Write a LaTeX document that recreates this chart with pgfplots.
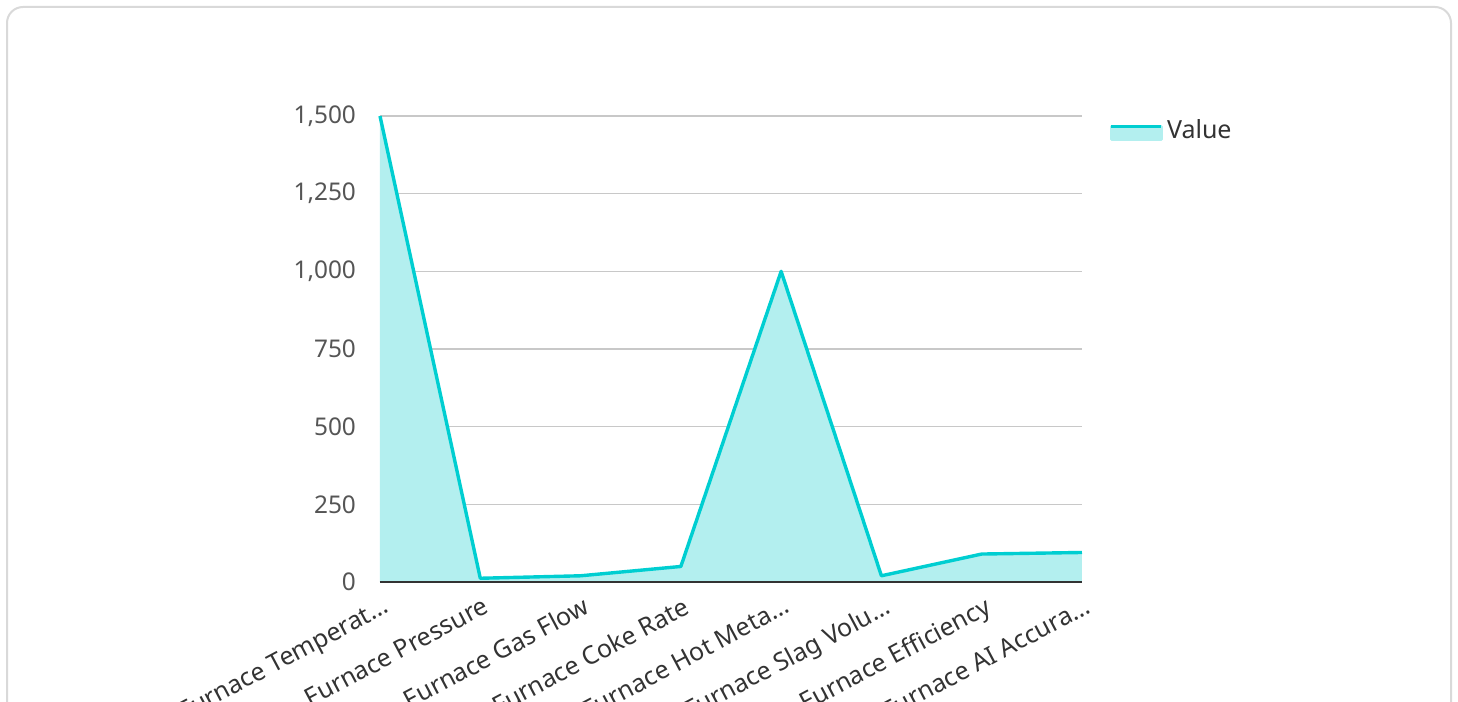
\documentclass[border=0pt]{standalone}
\usepackage{pgfplots}
\pgfplotsset{compat=1.18}
\usepackage{fontspec}
\setmainfont{Noto Sans}
\definecolor{linec}{RGB}{0,206,209}
\definecolor{fillc}{RGB}{179,239,239}
\definecolor{gridc}{RGB}{200,200,200}
\definecolor{tickc}{RGB}{85,85,85}
\definecolor{labc}{RGB}{51,51,51}
\definecolor{cardc}{RGB}{217,217,217}
\begin{document}
\begin{tikzpicture}
\useasboundingbox (0,0) rectangle (729pt,351pt);
\draw[cardc, line width=1pt, rounded corners=8pt] (3.5pt,-30pt) rectangle (725.5pt,347.5pt);
\begin{axis}[
  at={(190pt,60pt)}, anchor=south west,
  scale only axis, width=351pt, height=233pt,
  xmin=0, xmax=7, ymin=0, ymax=1500,
  xtick={0,1,2,3,4,5,6,7},
  xticklabels={{Furnace Temperat…},{Furnace Pressure},{Furnace Gas Flow},{Furnace Coke Rate},{Furnace Hot Meta…},{Furnace Slag Volu…},{Furnace Efficiency},{Furnace AI Accura…}},
  ytick={0,250,...,1500},
  /pgf/number format/assume math mode=true,
  /pgf/number format/1000 sep={,},
  scaled y ticks=false,
  axis line style={draw=none},
  major tick length=0pt,
  ymajorgrids, grid style={gridc, line width=0.7pt},
  yticklabel style={tickc, font=\fontsize{12.2}{14}\selectfont, xshift=-8.5pt},
  xticklabel style={labc, font=\fontsize{12.5}{14}\selectfont, rotate=28, anchor=north east, yshift=-3pt, xshift=1pt},
  legend style={at={(1.036,1.006)}, anchor=north west, draw=none, fill=none,
    font=\fontsize{12.5}{14}\selectfont\color{labc}, inner sep=1pt},
  legend cell align=left,
  clip=false,
]
\addplot[draw=none, fill=fillc, forget plot] coordinates {
  (0,1500) (1,12) (2,20) (3,50) (4,1000) (5,20) (6,90) (7,95)
} \closedcycle;
\draw[labc, line width=1pt] (axis cs:0,0) -- (axis cs:7,0);
\addplot[draw=linec, line width=1.7pt, line join=round,
  legend image code/.code={
    \fill[fillc] (-2pt,-4.5pt) rectangle (23pt,2pt);
    \draw[linec, line width=1.7pt] (-2pt,2pt) -- (23pt,2pt);
  }] coordinates {
  (0,1500) (1,12) (2,20) (3,50) (4,1000) (5,20) (6,90) (7,95)
};
\addlegendentry{Value}
\end{axis}
\end{tikzpicture}
\end{document}
